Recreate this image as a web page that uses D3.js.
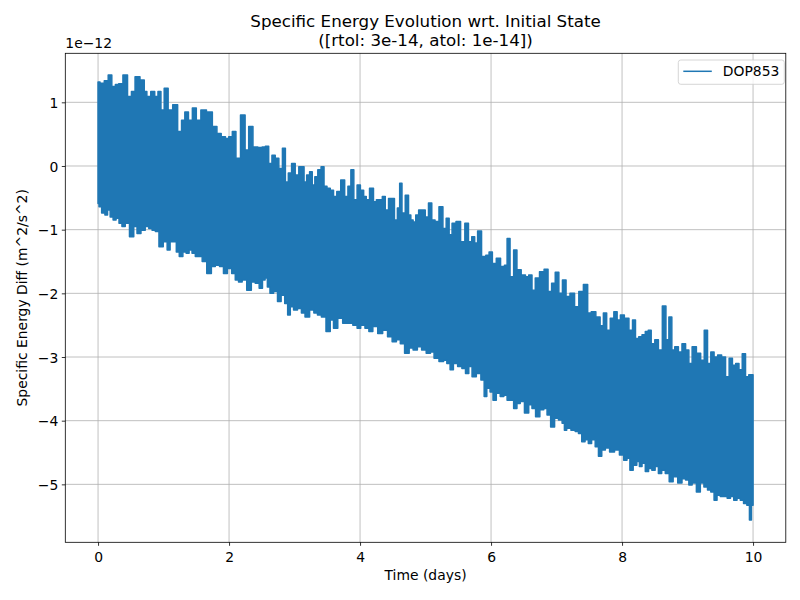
<!DOCTYPE html>
<html>
<head>
<meta charset="utf-8">
<script src="https://cdn.jsdelivr.net/npm/d3@7"></script>
<style>
  body { margin: 0; background: #fff; }
  text { font-family: 'DejaVu Sans', sans-serif; fill: #000; }
</style>
</head>
<body>
<div id="chart"></div>
<script>
// top and bottom edge of the oscillating energy error (units of 1e-12)
const upperT = [0, 0.06, 0.13, 0.18, 0.24, 0.29, 0.34, 0.42, 0.48, 0.54, 0.59, 0.69, 0.72, 0.77, 0.84,
  0.89, 0.94, 0.98, 1.04, 1.10, 1.18, 1.25, 1.30, 1.35, 1.41, 1.47, 1.53, 1.61, 1.70, 1.79, 1.84,
  1.92, 1.97, 2.02, 2.08, 2.13, 2.22, 2.27, 2.33, 2.40, 2.48, 2.53, 2.58, 2.63, 2.68, 2.73, 2.79,
  2.84, 2.88, 2.93, 2.98, 3.04, 3.09, 3.13, 3.16, 3.21, 3.25, 3.29, 3.33, 3.38, 3.43, 3.47, 3.52,
  3.57, 3.62, 3.67, 3.74, 3.79, 3.84, 3.88, 3.93, 3.98, 4.03, 4.08, 4.11, 4.18, 4.23, 4.27, 4.32,
  4.36, 4.41, 4.46, 4.50, 4.55, 4.59, 4.62, 4.66, 4.72, 4.76, 4.79, 4.83, 4.87, 4.92, 4.97, 5.02,
  5.07, 5.12, 5.17, 5.24, 5.29, 5.34, 5.38, 5.43, 5.50, 5.57, 5.63, 5.68, 5.73, 5.77, 5.82, 5.89,
  5.95, 5.99, 6.05, 6.11, 6.18, 6.23, 6.26, 6.32, 6.37, 6.42, 6.50, 6.55, 6.60, 6.65, 6.70, 6.78,
  6.84, 6.90, 6.95, 7.01, 7.06, 7.12, 7.17, 7.24, 7.31, 7.37, 7.45, 7.50, 7.56, 7.64, 7.69, 7.74,
  7.79, 7.85, 7.90, 7.95, 8.00, 8.07, 8.14, 8.18, 8.23, 8.28, 8.33, 8.38, 8.42, 8.47, 8.53, 8.58,
  8.65, 8.69, 8.74, 8.78, 8.83, 8.89, 8.94, 9.00, 9.04, 9.10, 9.17, 9.23, 9.28, 9.33, 9.38, 9.43,
  9.49, 9.55, 9.61, 9.66, 9.71, 9.76, 9.81, 9.86, 9.91, 9.96, 10]
const upperV = [1.32, 1.30, 1.34, 1.43, 1.25, 1.28, 1.29, 1.43, 1.09, 1.17, 1.40, 1.35, 1.17, 1.09, 1.17,
  1.09, 1.17, 0.88, 1.22, 0.88, 0.96, 0.54, 0.72, 0.85, 0.72, 0.91, 0.72, 0.88, 0.85, 0.62, 0.51,
  0.46, 0.43, 0.46, 0.54, 0.12, 0.80, 0.25, 0.62, 0.30, 0.29, 0.30, 0.31, 0.04, 0.17, 0.12, -0.04,
  0.28, -0.25, -0.11, 0.04, -0.14, -0.01, -0.01, -0.25, -0.14, -0.09, -0.30, -0.17, -0.06, -0.01, -0.32, -0.35,
  -0.38, -0.48, -0.40, -0.22, -0.48, -0.32, -0.06, -0.53, -0.30, -0.38, -0.48, -0.53, -0.35, -0.56, -0.53, -0.53,
  -0.48, -0.69, -0.51, -0.51, -0.85, -0.66, -0.27, -0.74, -0.46, -0.77, -0.85, -0.88, -0.77, -0.69, -0.69, -0.80,
  -0.58, -0.85, -0.87, -0.64, -0.98, -0.82, -1.08, -0.90, -0.87, -1.19, -0.90, -1.19, -1.11, -1.21, -1.02, -1.42,
  -1.40, -1.35, -1.53, -1.45, -1.58, -1.56, -1.14, -1.74, -1.32, -1.63, -1.71, -1.74, -1.71, -1.95, -1.76, -1.66,
  -1.62, -1.97, -1.84, -1.67, -2.00, -1.79, -2.05, -2.00, -2.21, -1.97, -1.86, -2.31, -2.29, -2.37, -2.51, -2.31,
  -2.58, -2.39, -2.29, -2.42, -2.34, -2.39, -2.58, -2.42, -2.71, -2.68, -2.65, -2.60, -2.58, -2.79, -2.73, -2.89,
  -2.20, -2.73, -2.37, -2.89, -2.84, -2.92, -2.79, -2.89, -3.10, -2.84, -2.94, -3.05, -2.58, -3.10, -2.92, -3.00,
  -2.97, -3.00, -3.31, -3.02, -3.13, -3.10, -3.20, -2.95, -3.31, -3.28, -3.28]

const lowerT = [0, 0.03, 0.08, 0.13, 0.16, 0.21, 0.25, 0.30, 0.34, 0.39, 0.44, 0.52, 0.57, 0.62, 0.69,
  0.75, 0.80, 0.85, 0.90, 0.96, 1.03, 1.08, 1.12, 1.18, 1.21, 1.27, 1.32, 1.37, 1.41, 1.46, 1.51,
  1.56, 1.62, 1.70, 1.76, 1.82, 1.89, 1.94, 2.01, 2.07, 2.12, 2.17, 2.23, 2.31, 2.37, 2.43, 2.49,
  2.53, 2.57, 2.60, 2.65, 2.71, 2.77, 2.82, 2.88, 2.91, 2.96, 3.01, 3.08, 3.13, 3.19, 3.27, 3.32,
  3.38, 3.44, 3.52, 3.57, 3.62, 3.70, 3.77, 3.85, 3.93, 3.98, 4.04, 4.11, 4.16, 4.23, 4.31, 4.38,
  4.46, 4.52, 4.59, 4.64, 4.72, 4.78, 4.84, 4.91, 4.97, 5.05, 5.10, 5.16, 5.25, 5.30, 5.35, 5.40,
  5.45, 5.53, 5.58, 5.64, 5.68, 5.74, 5.81, 5.88, 5.91, 5.96, 6.01, 6.05, 6.11, 6.17, 6.22, 6.27,
  6.32, 6.37, 6.42, 6.47, 6.55, 6.60, 6.65, 6.71, 6.78, 6.83, 6.88, 6.94, 7.00, 7.06, 7.11, 7.13,
  7.18, 7.26, 7.31, 7.36, 7.41, 7.46, 7.51, 7.56, 7.62, 7.66, 7.72, 7.77, 7.85, 7.92, 8.00, 8.05,
  8.10, 8.14, 8.20, 8.25, 8.28, 8.33, 8.38, 8.43, 8.48, 8.53, 8.58, 8.63, 8.69, 8.75, 8.81, 8.89,
  8.94, 9.00, 9.04, 9.10, 9.17, 9.22, 9.28, 9.33, 9.38, 9.43, 9.47, 9.53, 9.58, 9.63, 9.68, 9.73,
  9.78, 9.83, 9.88, 9.93, 9.96, 9.99, 10]
const lowerV = [-0.59, -0.64, -0.74, -0.77, -0.69, -0.80, -0.85, -0.82, -0.90, -0.95, -0.90, -1.11, -0.95, -1.06, -1.01,
  -0.95, -0.98, -1.01, -1.03, -1.27, -1.19, -1.32, -1.19, -1.19, -1.35, -1.42, -1.35, -1.37, -1.32, -1.37, -1.42,
  -1.42, -1.50, -1.69, -1.58, -1.56, -1.58, -1.69, -1.61, -1.69, -1.79, -1.82, -1.79, -1.95, -1.82, -1.84, -1.92,
  -1.79, -1.76, -1.90, -2.00, -1.97, -2.13, -2.03, -2.16, -2.34, -2.21, -2.26, -2.24, -2.31, -2.37, -2.26, -2.31,
  -2.34, -2.37, -2.60, -2.42, -2.55, -2.39, -2.47, -2.47, -2.50, -2.55, -2.50, -2.55, -2.60, -2.52, -2.63, -2.58,
  -2.68, -2.76, -2.73, -2.79, -2.94, -2.86, -2.89, -2.84, -2.89, -2.94, -2.92, -3.02, -3.07, -3.05, -3.10, -3.20,
  -3.10, -3.15, -3.18, -3.26, -3.15, -3.31, -3.26, -3.36, -3.62, -3.49, -3.55, -3.68, -3.57, -3.62, -3.60, -3.68,
  -3.68, -3.81, -3.73, -3.70, -3.88, -3.75, -3.81, -3.94, -3.83, -3.81, -3.91, -4.10, -3.96, -3.99, -4.04, -4.15,
  -4.12, -4.15, -4.17, -4.20, -4.33, -4.30, -4.36, -4.30, -4.41, -4.56, -4.46, -4.43, -4.49, -4.46, -4.54, -4.62,
  -4.59, -4.78, -4.70, -4.64, -4.72, -4.67, -4.80, -4.75, -4.78, -4.72, -4.83, -4.78, -4.83, -4.96, -4.88, -4.98,
  -4.91, -4.93, -5.01, -4.98, -5.12, -4.98, -5.04, -5.09, -5.12, -5.25, -5.17, -5.19, -5.19, -5.22, -5.19, -5.25,
  -5.22, -5.25, -5.30, -5.33, -5.56, -5.33, -5.33]

const xTicks = [0, 2, 4, 6, 8, 10]
const yTicks = [-5, -4, -3, -2, -1, 0, 1]

const renderChart = () => {
  const chartWidth = 800
  const chartHeight = 600
  const margin = { top: 53.3, bottom: 57.7, left: 65.3, right: 14.2 }
  const width = chartWidth - margin.left - margin.right
  const height = chartHeight - margin.top - margin.bottom
  const blue = '#1f77b4'

  const root = d3.select('#chart')
    .append('svg')
    .attr('width', chartWidth)
    .attr('height', chartHeight)
  const svg = root.append('g')
    .attr('transform', `translate(${margin.left}, ${margin.top})`)

  const x = d3.scaleLinear().domain([-0.5, 10.5]).range([0, width])
  const y = d3.scaleLinear().domain([-5.91, 1.77]).range([height, 0])

  // grid
  svg.append('g').selectAll('line').data(xTicks).enter().append('line')
    .attr('x1', (d) => x(d)).attr('x2', (d) => x(d))
    .attr('y1', 0).attr('y2', height)
    .attr('stroke', '#b0b0b0').attr('stroke-width', 0.8)
  svg.append('g').selectAll('line').data(yTicks).enter().append('line')
    .attr('x1', 0).attr('x2', width)
    .attr('y1', (d) => y(d)).attr('y2', (d) => y(d))
    .attr('stroke', '#b0b0b0').attr('stroke-width', 0.8)

  // the oscillation is far too dense to show point by point, so it is drawn as its band:
  // along the top edge, then back along the bottom edge (steps keep the edges spiky and vertical)
  const top = upperT.map((t, i) => [t, upperV[i]])
  const bottom = lowerT.map((t, i) => [t, lowerV[i]]).reverse()
  const line = d3.line().x((d) => x(d[0])).y((d) => y(d[1])).curve(d3.curveStep)
  svg.append('path')
    .datum(top.concat(bottom))
    .attr('d', (d) => line(d) + 'Z')
    .attr('fill', blue)
    .attr('stroke', blue)
    .attr('stroke-width', 1.5)
    .attr('stroke-linejoin', 'round')

  // axes
  const xAxis = svg.append('g')
    .attr('transform', `translate(0, ${height})`)
    .call(d3.axisBottom(x).tickValues(xTicks).tickSize(3.5).tickPadding(3.5).tickFormat(d3.format('d')))
  xAxis.selectAll('text').attr('y', 19.7).attr('dy', 0)
  const yAxis = svg.append('g')
    .call(d3.axisLeft(y).tickValues(yTicks).tickSize(3.5).tickPadding(3.5).tickFormat(d3.format('d')))
  yAxis.selectAll('text').attr('dy', '0.36em')
  svg.selectAll('.domain').remove()
  svg.selectAll('.tick line').attr('stroke', '#000').attr('stroke-width', 0.8)
  svg.selectAll('.tick text').style('font-size', '13.9px').style('font-family', 'DejaVu Sans')

  svg.append('rect')
    .attr('width', width).attr('height', height)
    .attr('fill', 'none').attr('stroke', '#000').attr('stroke-width', 0.8)

  // labels
  svg.append('text')
    .text('1e\u221212')
    .attr('x', 0).attr('y', -5)
    .style('font-size', '13.9px')
  svg.append('text')
    .text('Time (days)')
    .attr('transform', `translate(${width / 2}, ${height + 38})`)
    .attr('text-anchor', 'middle')
    .style('font-size', '13.9px')
  svg.append('text')
    .text('Specific Energy Diff (m^2/s^2)')
    .attr('transform', `translate(${27 - margin.left}, ${height / 2})rotate(-90)`)
    .attr('text-anchor', 'middle')
    .style('font-size', '13.9px')
  svg.append('text')
    .text('Specific Energy Evolution wrt. Initial State')
    .attr('transform', `translate(${width / 2}, ${27 - margin.top})`)
    .attr('text-anchor', 'middle')
    .style('font-size', '16.7px')
  svg.append('text')
    .text('([rtol: 3e-14, atol: 1e-14])')
    .attr('transform', `translate(${width / 2}, ${46 - margin.top})`)
    .attr('text-anchor', 'middle')
    .style('font-size', '16.7px')

  // legend
  const legend = svg.append('g')
    .attr('transform', `translate(${width - 107.5}, 6.7)`)
  legend.append('rect')
    .attr('width', 106).attr('height', 24.3)
    .attr('rx', 2.5)
    .attr('fill', 'rgba(255,255,255,0.8)')
    .attr('stroke', '#cccccc').attr('stroke-width', 0.8)
  legend.append('line')
    .attr('x1', 5).attr('x2', 33.5).attr('y1', 11.3).attr('y2', 11.3)
    .attr('stroke', blue).attr('stroke-width', 1.5)
  legend.append('text')
    .text('DOP853')
    .attr('x', 44.5).attr('y', 16.3)
    .style('font-size', '13.9px')
}

renderChart()
</script>
</body>
</html>
